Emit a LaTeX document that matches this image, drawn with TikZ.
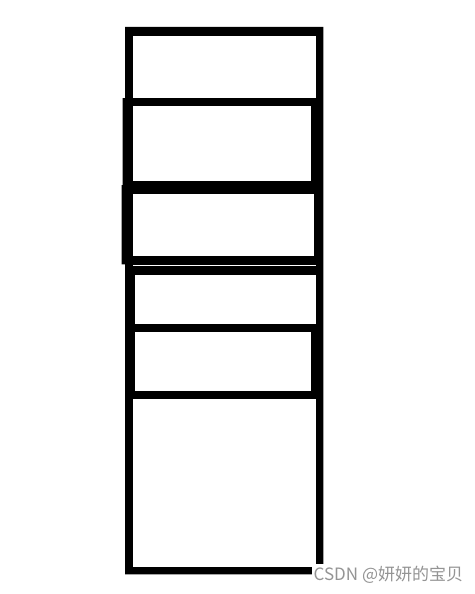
\documentclass[tikz,border=0pt]{standalone}
\usepackage{fontspec}
\newfontfamily\cjk{Noto Sans CJK SC}
\usetikzlibrary{positioning}

\begin{document}
\begin{tikzpicture}[x=1pt,y=-1pt]
  \useasboundingbox[fill=white] (0,0) rectangle (474,594);
  \tikzset{hole/.style={fill=white}}
  \coordinate (pTL) at (125,27);
  \coordinate (pBR) at (323.3,574.3);
  % black frame with the uneven left side
  \fill[black] (pTL) -| (pBR) -| (125,264.3) -| (121.7,185) -| (122.7,98) -| (125,98) -- cycle;
  % the six shelves
  \fill[hole] (132.7,35.7) rectangle (315.7,97.7);
  \fill[hole] (132.7,106) rectangle (310.7,181);
  \fill[hole] (132.7,194) rectangle (314,256);
  \fill[hole] (133,264.6) rectangle (315.7,265.8);
  \fill[hole] (135,275) rectangle (315.7,324);
  \fill[hole] (135,332.3) rectangle (310.7,390.7);
  \fill[hole] (132.7,399.3) rectangle (315.7,566.7);
  \node[anchor=base west,fill=white,text=black!42,inner sep=1.5pt,
        font=\cjk\fontsize{17}{17}\selectfont] (mark) at (312,580) {CSDN @妍妍的宝贝};
\end{tikzpicture}
\end{document}
